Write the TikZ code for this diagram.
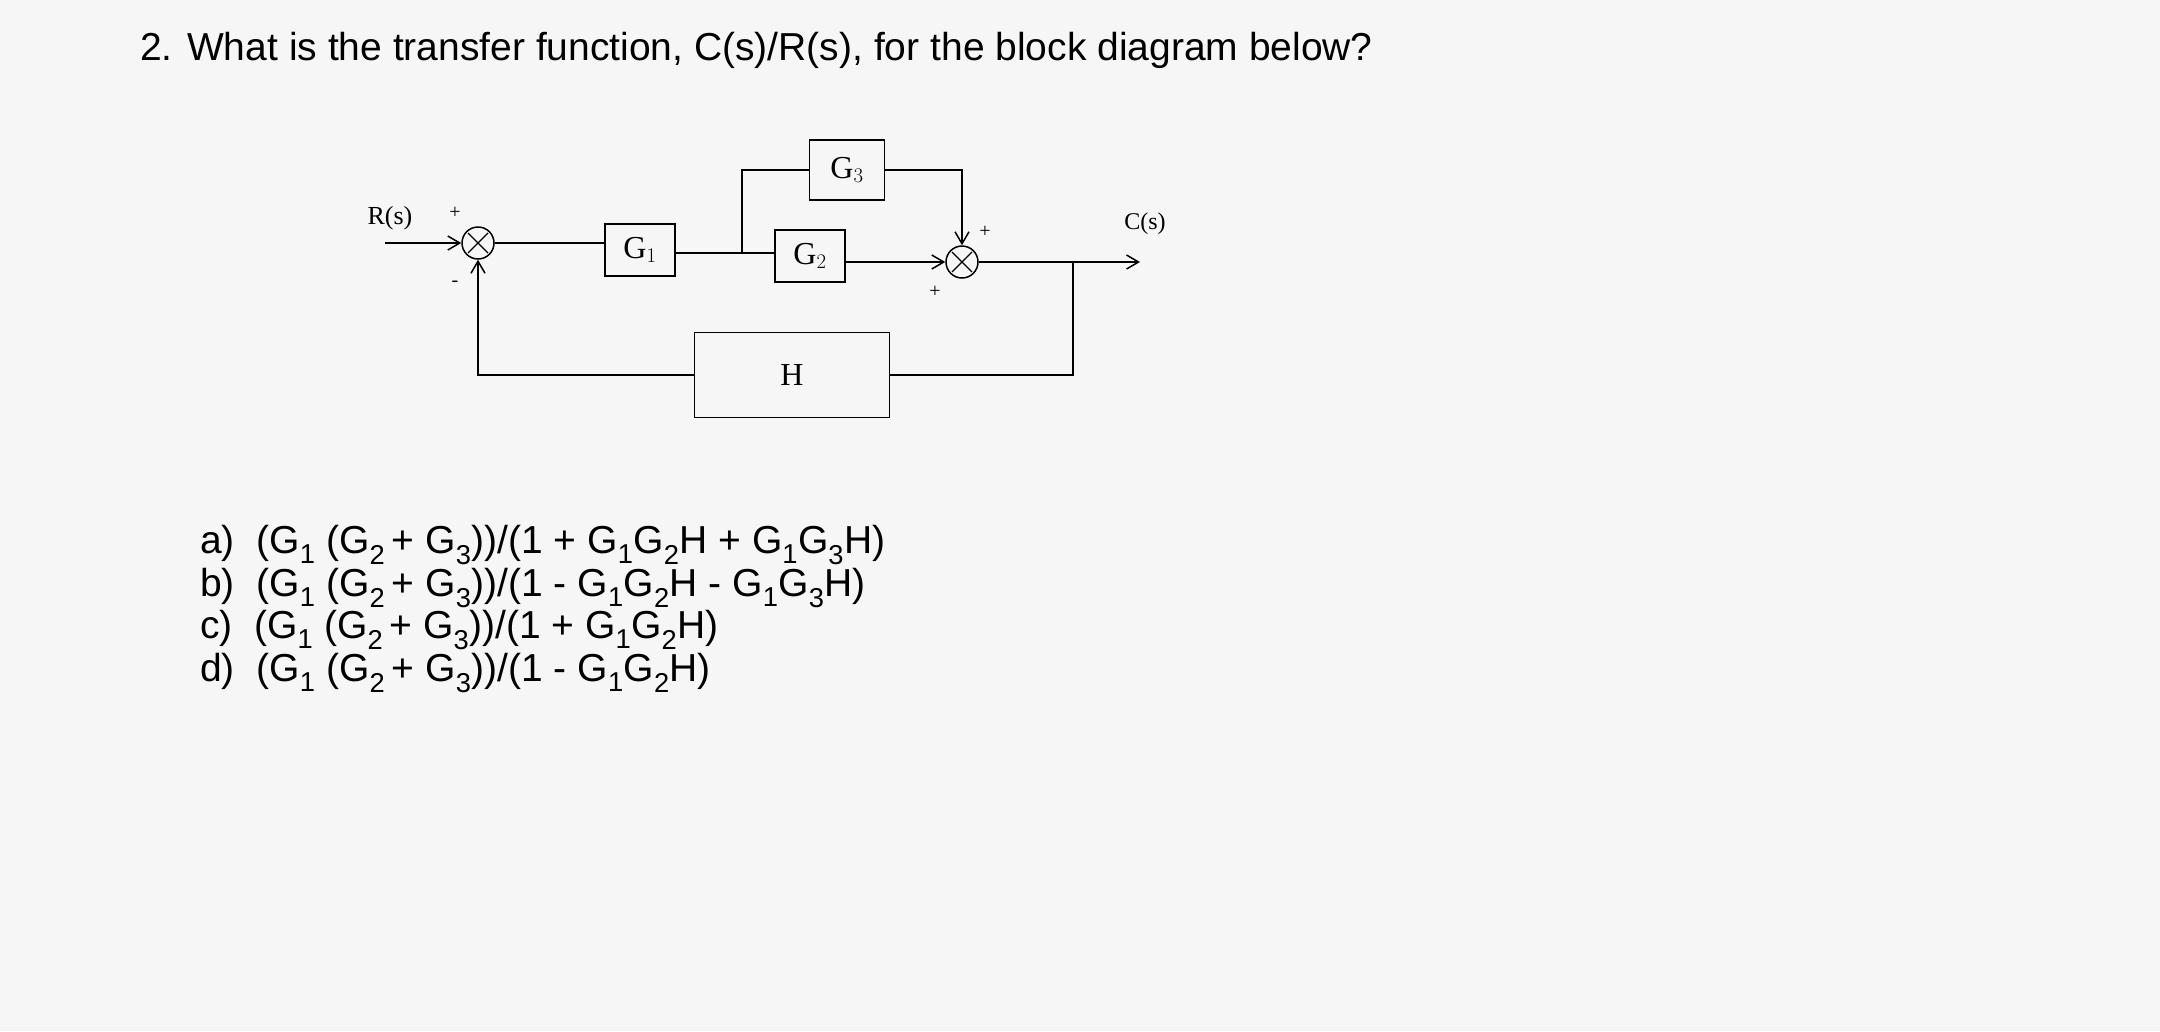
\documentclass[tikz,border=0pt]{standalone}
\usepackage{fontspec}
\setmainfont{Liberation Serif}
\newfontfamily\arial{Liberation Sans}
\usetikzlibrary{arrows.meta}
\begin{document}
\begin{tikzpicture}[x=1pt,y=-1pt,
  blk/.style={draw,line width=1.5pt,minimum width=70pt,minimum height=52pt,font=\fontsize{32}{32}\selectfont},
  sj/.style={draw,circle,line width=1.5pt,minimum size=32pt,inner sep=0pt,path picture={\draw[line width=1.2pt] (path picture bounding box.north west)++(6pt,-6pt) -- ([shift={(-6pt,6pt)}]path picture bounding box.south east);\draw[line width=1.2pt] ([shift={(6pt,6pt)}]path picture bounding box.south west) -- ([shift={(-6pt,-6pt)}]path picture bounding box.north east);}},
  ln/.style={line width=1.5pt},
  ar/.style={ln,-{Straight Barb[length=12pt,width=14pt]}},
  sg/.style={font=\fontsize{20}{20}\selectfont,inner sep=0pt},
  opt/.style={anchor=west,font=\arial\fontsize{39}{39}\selectfont,inner sep=0pt}]
\fill[white!93!gray] (0,0) rectangle (2160,1031);
\useasboundingbox (0,0) rectangle (2160,1031);
\node[anchor=west,inner sep=0pt,font=\arial\fontsize{39}{39}\selectfont] (title) at (140,50) {2. What is the transfer function, C(s)/R(s), for the block diagram below?};
\node (s1) [sj] at (478,243) {};
\node (s2) [sj] at (962,262) {};
\node (g1) [blk] at (640,250) {G$_1$};
\node (g2) [blk] at (810,256) {G$_2$};
\node (g3) [blk,minimum width=75pt,minimum height=60pt] at (847,170) {G$_3$};
\node (h) [blk,minimum width=195pt,minimum height=85pt] at (792,375) {H};
\node (r) [font=\fontsize{26}{26}\selectfont] at (390,218) {R(s)};
\node (c) [font=\fontsize{24}{24}\selectfont] at (1145,224) {C(s)};
\coordinate (in) at (385,243);
\coordinate (br) at (742,253);
\coordinate (out) at (1140,262);
\coordinate (tap) at (1073,262);
\node[sg] at (455,213) {+};
\node[sg] at (455,284) {-};
\node[sg] at (985,232) {+};
\node[sg] at (935,292) {+};
\draw[ar] (in) -- (s1);
\draw[ln] (s1) -- (g1.west |- s1);
\draw[ln] (g1.east |- br) -- (br) -- (g2.west |- br);
\draw[ln] (br) |- (g3.west);
\draw[ar] (g3.east) -| (s2.north);
\draw[ar] (g2.east |- s2) -- (s2);
\draw[ar] (s2) -- (out);
\draw[ln] (tap) |- (h.east);
\draw[ar] (h.west) -| (s1.south);
\node[opt] (a) at (200,545) {a)\ \ (G\textsubscript{1} (G\textsubscript{2}\,+ G\textsubscript{3}))/(1 + G\textsubscript{1}G\textsubscript{2}H + G\textsubscript{1}G\textsubscript{3}H)};
\node[opt] (b) at (200,588) {b)\ \ (G\textsubscript{1} (G\textsubscript{2}\,+ G\textsubscript{3}))/(1 - G\textsubscript{1}G\textsubscript{2}H - G\textsubscript{1}G\textsubscript{3}H)};
\node[opt] (c2) at (200,630) {c)\ \ (G\textsubscript{1} (G\textsubscript{2}\,+ G\textsubscript{3}))/(1 + G\textsubscript{1}G\textsubscript{2}H)};
\node[opt] (d) at (200,673) {d)\ \ (G\textsubscript{1} (G\textsubscript{2}\,+ G\textsubscript{3}))/(1 - G\textsubscript{1}G\textsubscript{2}H)};
\end{tikzpicture}
\end{document}
